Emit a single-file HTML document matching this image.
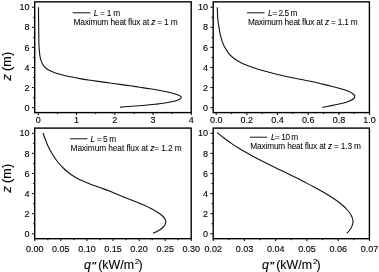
<!DOCTYPE html>
<html><head><meta charset="utf-8">
<style>html,body{margin:0;padding:0;background:#fff}svg{display:block}text{font-family:"Liberation Sans",Arial,Helvetica,sans-serif;fill:#000;stroke:#000;stroke-width:0.12px}.t{font-size:9.0px}.l{font-size:8.3px;stroke-width:0.04px}.a{font-size:12.4px}.i{font-style:italic}</style></head><body>
<svg width="379" height="272" viewBox="0 0 379 272">
<rect width="379" height="272" fill="#fff"/>
<g fill="none" stroke="#000" stroke-width="1.4">
<rect x="34.70" y="1.85" width="156.50" height="110.75"/>
<path d="M34.70 107.70h-2.80M34.70 97.65h-1.60M34.70 87.60h-2.80M34.70 77.55h-1.60M34.70 67.50h-2.80M34.70 57.45h-1.60M34.70 47.40h-2.80M34.70 37.35h-1.60M34.70 27.30h-2.80M34.70 17.25h-1.60M34.70 7.20h-2.80M38.30 112.60v2.40M57.42 112.60v1.50M76.55 112.60v2.40M95.67 112.60v1.50M114.80 112.60v2.40M133.93 112.60v1.50M153.05 112.60v2.40M172.18 112.60v1.50M191.30 112.60v2.40" stroke-width="1"/>
</g>
<path d="M38.50 7.20C38.52 9.33 38.56 16.20 38.60 20.00C38.64 23.80 38.70 26.00 38.75 30.00C38.80 34.00 38.81 40.68 38.90 44.00C38.99 47.32 39.13 47.93 39.30 49.90C39.47 51.87 39.63 54.08 39.90 55.80C40.17 57.52 40.42 58.73 40.90 60.20C41.38 61.67 41.98 63.30 42.80 64.60C43.62 65.90 44.57 66.97 45.80 68.00C47.03 69.03 48.48 69.93 50.20 70.80C51.92 71.67 53.88 72.47 56.10 73.20C58.32 73.93 61.05 74.60 63.50 75.20C65.95 75.80 68.05 76.23 70.80 76.80C73.55 77.37 76.80 78.02 80.00 78.60C83.20 79.18 86.67 79.80 90.00 80.30C93.33 80.80 96.67 81.15 100.00 81.60C103.33 82.05 106.67 82.53 110.00 83.00C113.33 83.47 116.67 83.93 120.00 84.40C123.33 84.87 126.67 85.33 130.00 85.80C133.33 86.27 136.67 86.76 140.00 87.25C143.33 87.74 146.67 88.21 150.00 88.75C153.33 89.29 156.67 89.88 160.00 90.50C163.33 91.12 167.08 91.79 170.00 92.50C172.92 93.21 175.62 94.00 177.50 94.75C179.38 95.50 180.92 96.25 181.25 97.00C181.58 97.75 180.54 98.58 179.50 99.25C178.46 99.92 177.42 100.38 175.00 101.00C172.58 101.62 168.33 102.46 165.00 103.00C161.67 103.54 158.33 103.88 155.00 104.25C151.67 104.62 148.33 104.96 145.00 105.25C141.67 105.54 138.33 105.75 135.00 106.00C131.67 106.25 127.50 106.54 125.00 106.75C122.50 106.96 120.83 107.17 120.00 107.25" fill="none" stroke="#111" stroke-width="1.1"/>
<text class="t" x="29.50" y="110.80" text-anchor="end">0</text>
<text class="t" x="29.50" y="90.70" text-anchor="end">2</text>
<text class="t" x="29.50" y="70.60" text-anchor="end">4</text>
<text class="t" x="29.50" y="50.50" text-anchor="end">6</text>
<text class="t" x="29.50" y="30.40" text-anchor="end">8</text>
<text class="t" x="29.50" y="10.30" text-anchor="end">10</text>
<text class="t" x="38.30" y="123.40" text-anchor="middle">0</text>
<text class="t" x="76.55" y="123.40" text-anchor="middle">1</text>
<text class="t" x="114.80" y="123.40" text-anchor="middle">2</text>
<text class="t" x="153.05" y="123.40" text-anchor="middle">3</text>
<text class="t" x="191.30" y="123.40" text-anchor="middle">4</text>
<path d="M72.60 12.80H90.50" stroke="#111" stroke-width="1.0" fill="none"/>
<text class="l" transform="translate(93.70 15.90) scale(1 1.000)" textLength="26.4" lengthAdjust="spacing" xml:space="preserve"><tspan class="i">L</tspan> = 1 m</text>
<text class="l" transform="translate(73.60 25.00) scale(1 1.000)" textLength="104.0" lengthAdjust="spacing" xml:space="preserve">Maximum heat flux at <tspan class="i">z</tspan> = 1 m</text>
<g fill="none" stroke="#000" stroke-width="1.4">
<rect x="213.20" y="1.85" width="156.20" height="110.75"/>
<path d="M213.20 107.70h-2.80M213.20 97.65h-1.60M213.20 87.60h-2.80M213.20 77.55h-1.60M213.20 67.50h-2.80M213.20 57.45h-1.60M213.20 47.40h-2.80M213.20 37.35h-1.60M213.20 27.30h-2.80M213.20 17.25h-1.60M213.20 7.20h-2.80M216.20 112.60v2.40M231.54 112.60v1.50M246.88 112.60v2.40M262.22 112.60v1.50M277.56 112.60v2.40M292.90 112.60v1.50M308.24 112.60v2.40M323.58 112.60v1.50M338.92 112.60v2.40M354.26 112.60v1.50M369.60 112.60v2.40" stroke-width="1"/>
</g>
<path d="M217.25 7.20C217.29 8.33 217.39 11.87 217.50 14.00C217.61 16.13 217.65 17.77 217.90 20.00C218.15 22.23 218.60 24.95 219.00 27.40C219.40 29.85 219.78 32.42 220.30 34.70C220.82 36.98 221.33 38.95 222.10 41.10C222.87 43.25 223.83 45.60 224.90 47.60C225.97 49.60 227.13 51.42 228.50 53.10C229.87 54.78 231.25 56.23 233.10 57.70C234.95 59.17 236.98 60.52 239.60 61.90C242.22 63.28 245.73 64.77 248.80 66.00C251.87 67.23 254.47 68.22 258.00 69.30C261.53 70.38 266.33 71.55 270.00 72.50C273.67 73.45 276.67 74.21 280.00 75.00C283.33 75.79 286.67 76.55 290.00 77.25C293.33 77.95 296.60 78.53 300.00 79.20C303.40 79.88 306.93 80.55 310.40 81.30C313.87 82.05 317.32 82.88 320.80 83.70C324.28 84.52 327.82 85.32 331.30 86.20C334.78 87.08 338.75 88.12 341.70 89.00C344.65 89.88 347.08 90.67 349.00 91.50C350.92 92.33 352.23 93.25 353.20 94.00C354.17 94.75 354.70 95.25 354.80 96.00C354.90 96.75 354.60 97.70 353.80 98.50C353.00 99.30 351.67 100.05 350.00 100.80C348.33 101.55 346.23 102.33 343.80 103.00C341.37 103.67 338.18 104.22 335.40 104.80C332.62 105.38 329.28 106.07 327.10 106.50C324.92 106.93 323.10 107.25 322.30 107.40" fill="none" stroke="#111" stroke-width="1.1"/>
<text class="t" x="208.00" y="110.80" text-anchor="end">0</text>
<text class="t" x="208.00" y="90.70" text-anchor="end">2</text>
<text class="t" x="208.00" y="70.60" text-anchor="end">4</text>
<text class="t" x="208.00" y="50.50" text-anchor="end">6</text>
<text class="t" x="208.00" y="30.40" text-anchor="end">8</text>
<text class="t" x="208.00" y="10.30" text-anchor="end">10</text>
<text class="t" x="216.20" y="123.40" text-anchor="middle">0.0</text>
<text class="t" x="246.88" y="123.40" text-anchor="middle">0.2</text>
<text class="t" x="277.56" y="123.40" text-anchor="middle">0.4</text>
<text class="t" x="308.24" y="123.40" text-anchor="middle">0.6</text>
<text class="t" x="338.92" y="123.40" text-anchor="middle">0.8</text>
<text class="t" x="369.60" y="123.40" text-anchor="middle">1.0</text>
<path d="M247.10 12.80H264.50" stroke="#111" stroke-width="1.0" fill="none"/>
<text class="l" transform="translate(268.00 15.90) scale(1 1.000)" textLength="29.3" lengthAdjust="spacing" xml:space="preserve"><tspan class="i">L</tspan>= 2.5 m</text>
<text class="l" transform="translate(247.90 25.00) scale(1 1.000)" textLength="109.9" lengthAdjust="spacing" xml:space="preserve">Maximum heat flux at <tspan class="i">z</tspan> = 1.1 m</text>
<g fill="none" stroke="#000" stroke-width="1.4">
<rect x="34.70" y="128.10" width="156.50" height="110.60"/>
<path d="M34.70 233.80h-2.80M34.70 223.75h-1.60M34.70 213.70h-2.80M34.70 203.65h-1.60M34.70 193.60h-2.80M34.70 183.55h-1.60M34.70 173.50h-2.80M34.70 163.45h-1.60M34.70 153.40h-2.80M34.70 143.35h-1.60M34.70 133.30h-2.80M34.80 238.70v2.40M47.84 238.70v1.50M60.88 238.70v2.40M73.92 238.70v1.50M86.96 238.70v2.40M100.00 238.70v1.50M113.04 238.70v2.40M126.08 238.70v1.50M139.12 238.70v2.40M152.16 238.70v1.50M165.20 238.70v2.40M178.24 238.70v1.50M191.28 238.70v2.40" stroke-width="1"/>
</g>
<path d="M43.00 133.00C43.33 133.92 44.17 136.33 45.00 138.50C45.83 140.67 46.83 143.50 48.00 146.00C49.17 148.50 50.50 151.00 52.00 153.50C53.50 156.00 55.04 158.50 57.00 161.00C58.96 163.50 61.38 166.21 63.75 168.50C66.12 170.79 68.54 172.88 71.25 174.75C73.96 176.62 76.88 178.21 80.00 179.75C83.12 181.29 86.67 182.69 90.00 184.00C93.33 185.31 96.67 186.38 100.00 187.60C103.33 188.82 106.67 189.98 110.00 191.30C113.33 192.62 116.67 194.13 120.00 195.50C123.33 196.87 126.67 198.17 130.00 199.50C133.33 200.83 136.67 202.08 140.00 203.50C143.33 204.92 147.08 206.54 150.00 208.00C152.92 209.46 155.42 210.92 157.50 212.25C159.58 213.58 161.25 214.88 162.50 216.00C163.75 217.12 164.46 218.08 165.00 219.00C165.54 219.92 165.75 220.54 165.75 221.50C165.75 222.46 165.54 223.71 165.00 224.75C164.46 225.79 163.54 226.79 162.50 227.75C161.46 228.71 160.33 229.58 158.75 230.50C157.17 231.42 153.96 232.79 153.00 233.25" fill="none" stroke="#111" stroke-width="1.1"/>
<text class="t" x="29.50" y="236.90" text-anchor="end">0</text>
<text class="t" x="29.50" y="216.80" text-anchor="end">2</text>
<text class="t" x="29.50" y="196.70" text-anchor="end">4</text>
<text class="t" x="29.50" y="176.60" text-anchor="end">6</text>
<text class="t" x="29.50" y="156.50" text-anchor="end">8</text>
<text class="t" x="29.50" y="136.40" text-anchor="end">10</text>
<text class="t" x="34.80" y="252.20" text-anchor="middle">0.00</text>
<text class="t" x="60.88" y="252.20" text-anchor="middle">0.05</text>
<text class="t" x="86.96" y="252.20" text-anchor="middle">0.10</text>
<text class="t" x="113.04" y="252.20" text-anchor="middle">0.15</text>
<text class="t" x="139.12" y="252.20" text-anchor="middle">0.20</text>
<text class="t" x="165.20" y="252.20" text-anchor="middle">0.25</text>
<text class="t" x="191.28" y="252.20" text-anchor="middle">0.30</text>
<path d="M70.00 138.80H87.40" stroke="#111" stroke-width="1.0" fill="none"/>
<text class="l" transform="translate(90.60 141.80) scale(1 1.000)" textLength="25.6" lengthAdjust="spacing" xml:space="preserve"><tspan class="i">L</tspan> = 5 m</text>
<text class="l" transform="translate(70.60 151.30) scale(1 1.000)" textLength="111.2" lengthAdjust="spacing" xml:space="preserve">Maximum heat flux at <tspan class="i">z</tspan>= 1.2 m</text>
<g fill="none" stroke="#000" stroke-width="1.4">
<rect x="213.20" y="128.10" width="156.20" height="110.60"/>
<path d="M213.20 233.80h-2.80M213.20 223.75h-1.60M213.20 213.70h-2.80M213.20 203.65h-1.60M213.20 193.60h-2.80M213.20 183.55h-1.60M213.20 173.50h-2.80M213.20 163.45h-1.60M213.20 153.40h-2.80M213.20 143.35h-1.60M213.20 133.30h-2.80M213.20 238.70v2.40M228.82 238.70v1.50M244.44 238.70v2.40M260.06 238.70v1.50M275.68 238.70v2.40M291.30 238.70v1.50M306.92 238.70v2.40M322.54 238.70v1.50M338.16 238.70v2.40M353.78 238.70v1.50M369.40 238.70v2.40" stroke-width="1"/>
</g>
<path d="M217.25 132.75C218.21 133.50 220.79 135.58 223.00 137.25C225.21 138.92 228.00 141.00 230.50 142.75C233.00 144.50 235.08 145.96 238.00 147.75C240.92 149.54 244.67 151.62 248.00 153.50C251.33 155.38 254.67 157.25 258.00 159.00C261.33 160.75 264.67 162.35 268.00 164.00C271.33 165.65 274.67 167.28 278.00 168.90C281.33 170.52 284.67 172.08 288.00 173.70C291.33 175.32 295.33 177.26 298.00 178.60C300.67 179.94 301.33 180.35 304.00 181.75C306.67 183.15 310.67 185.21 314.00 187.00C317.33 188.79 320.67 190.54 324.00 192.50C327.33 194.46 331.05 196.75 334.00 198.75C336.95 200.75 339.47 202.62 341.70 204.50C343.93 206.38 345.85 208.25 347.40 210.00C348.95 211.75 350.08 213.33 351.00 215.00C351.92 216.67 352.62 218.54 352.90 220.00C353.18 221.46 353.00 222.42 352.70 223.75C352.40 225.08 351.75 226.75 351.10 228.00C350.45 229.25 349.52 230.38 348.80 231.25C348.08 232.12 347.13 232.88 346.80 233.20" fill="none" stroke="#111" stroke-width="1.1"/>
<text class="t" x="208.00" y="236.90" text-anchor="end">0</text>
<text class="t" x="208.00" y="216.80" text-anchor="end">2</text>
<text class="t" x="208.00" y="196.70" text-anchor="end">4</text>
<text class="t" x="208.00" y="176.60" text-anchor="end">6</text>
<text class="t" x="208.00" y="156.50" text-anchor="end">8</text>
<text class="t" x="208.00" y="136.40" text-anchor="end">10</text>
<text class="t" x="213.20" y="252.20" text-anchor="middle">0.02</text>
<text class="t" x="244.44" y="252.20" text-anchor="middle">0.03</text>
<text class="t" x="275.68" y="252.20" text-anchor="middle">0.04</text>
<text class="t" x="306.92" y="252.20" text-anchor="middle">0.05</text>
<text class="t" x="338.16" y="252.20" text-anchor="middle">0.06</text>
<text class="t" x="369.40" y="252.20" text-anchor="middle">0.07</text>
<path d="M249.80 137.20H267.20" stroke="#111" stroke-width="1.0" fill="none"/>
<text class="l" transform="translate(270.90 139.90) scale(1 1.000)" textLength="27.4" lengthAdjust="spacing" xml:space="preserve"><tspan class="i">L</tspan>= 10 m</text>
<text class="l" transform="translate(250.30 149.40) scale(1 1.000)" textLength="110.6" lengthAdjust="spacing" xml:space="preserve">Maximum heat flux at <tspan class="i">z</tspan> = 1.3 m</text>
<text class="a i" transform="translate(10.9 80.7) rotate(-90)" style="font-size:13.6px">z</text>
<text class="a" transform="translate(10.9 70.9) rotate(-90)" style="font-size:12.7px">(m)</text>
<text class="a i" transform="translate(10.9 192.7) rotate(-90)" style="font-size:13.6px">z</text>
<text class="a" transform="translate(10.9 182.9) rotate(-90)" style="font-size:12.7px">(m)</text>
<text class="a i" x="84.0" y="268.6">q</text>
<text class="a i" x="91.6" y="268.4" font-weight="bold" style="font-size:9.5px">″</text>
<text class="a" x="98.2" y="268.6">(kW/m</text>
<text class="a" x="134.9" y="264.2" style="font-size:7.5px">2</text>
<text class="a" x="138.6" y="268.6">)</text>
<text class="a i" x="262.0" y="268.6">q</text>
<text class="a i" x="269.6" y="268.4" font-weight="bold" style="font-size:9.5px">″</text>
<text class="a" x="276.2" y="268.6">(kW/m</text>
<text class="a" x="312.9" y="264.2" style="font-size:7.5px">2</text>
<text class="a" x="316.6" y="268.6">)</text>
</svg></body></html>
